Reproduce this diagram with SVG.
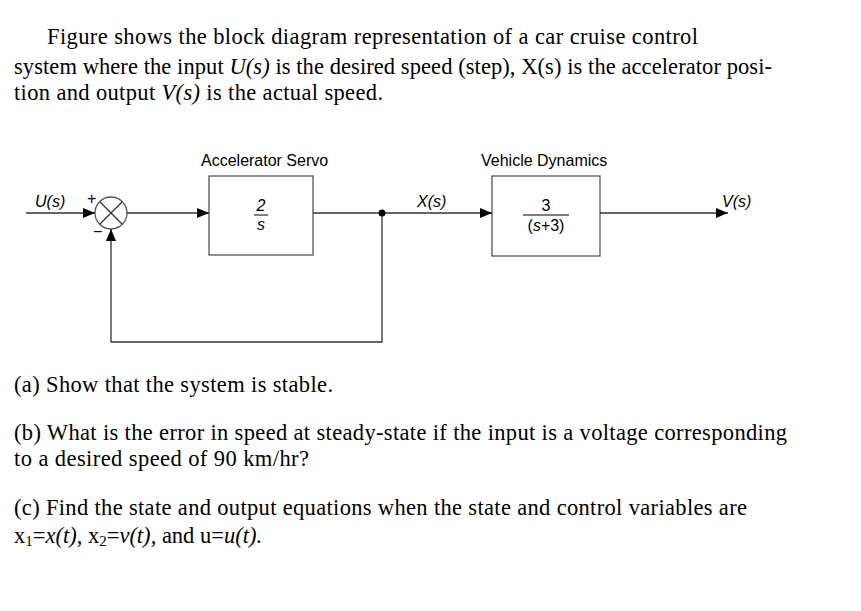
<svg xmlns="http://www.w3.org/2000/svg" width="861" height="611" viewBox="0 0 861 611">
<style>
.t{font-family:"Liberation Serif",serif;font-size:22.5px;fill:#000}
.s{font-family:"Liberation Sans",Arial,sans-serif;font-size:16px;fill:#000}
.b{fill:#fff;stroke:#555;stroke-width:1.3}
.l{fill:none;stroke:#333;stroke-width:1.3}
</style>
<defs><marker id="a" markerWidth="12" markerHeight="10" refX="12" refY="5" orient="auto" markerUnits="userSpaceOnUse"><path d="M0,0L12,5L0,10z" fill="#000"/></marker></defs>
<rect width="861" height="611" fill="#fff"/>
<g id="text">
<text class="t" x="47" y="44" textLength="651">Figure  shows the block diagram representation of a car cruise control</text>
<text class="t" x="14" y="74" textLength="758">system where the input <tspan font-style="italic">U(s)</tspan> is the desired speed (step), X(s) is the accelerator posi-</text>
<text class="t" x="14" y="100" textLength="369">tion and output <tspan font-style="italic">V(s)</tspan> is the actual speed.</text>
<text class="t" x="14" y="392" textLength="319">(a) Show that the system is stable.</text>
<text class="t" x="14" y="440" textLength="773">(b) What is the error in speed at steady-state if the input is a voltage corresponding</text>
<text class="t" x="14" y="466" textLength="295">to a desired speed of 90 km/hr?</text>
<text class="t" x="14" y="515" textLength="733">(c) Find the state and output equations when the state and control variables are</text>
<text class="t" x="14" y="543">x<tspan font-size="15" dy="3">1</tspan><tspan dy="-3">=<tspan font-style="italic">x(t)</tspan>, x</tspan><tspan font-size="15" dy="3">2</tspan><tspan dy="-3">=<tspan font-style="italic">v(t)</tspan>, and u=<tspan font-style="italic">u(t).</tspan></tspan></text>
</g>
<g id="sum">
<circle cx="111" cy="213" r="16" class="b"/>
<path d="M100,202L122,224M122,202L100,224" class="l"/>
<text class="s" x="87" y="204" font-size="13">+</text>
<text class="s" x="93" y="237" font-size="13">−</text>
</g>
<g id="servo">
<text class="s" x="201" y="166">Accelerator Servo</text>
<rect x="209" y="176" width="104" height="79" class="b"/>
<text class="s" x="261" y="211" text-anchor="middle" font-style="italic">2</text>
<line x1="254" y1="215" x2="268" y2="215" stroke="#000"/>
<text class="s" x="261" y="230" text-anchor="middle" font-style="italic">s</text>
</g>
<g id="vehicle">
<text class="s" x="481" y="166">Vehicle Dynamics</text>
<rect x="492" y="176" width="108" height="80" class="b"/>
<text class="s" x="546" y="211" text-anchor="middle">3</text>
<line x1="523" y1="215" x2="569" y2="215" stroke="#000"/>
<text class="s" x="546" y="231" text-anchor="middle">(<tspan font-style="italic">s</tspan>+3)</text>
</g>
<g id="connectors">
<line x1="26" y1="213" x2="95" y2="213" class="l" marker-end="url(#a)"/>
<line x1="127" y1="213" x2="209" y2="213" class="l" marker-end="url(#a)"/>
<line x1="313" y1="213" x2="492" y2="213" class="l" marker-end="url(#a)"/>
<line x1="600" y1="213" x2="728" y2="213" class="l" marker-end="url(#a)"/>
<path d="M382,213V342H111V229" class="l" marker-end="url(#a)"/>
<circle cx="382" cy="213" r="3.5" fill="#000"/>
<text class="s" x="35" y="207" font-style="italic">U(s)</text>
<text class="s" x="417" y="207" font-style="italic">X(s)</text>
<text class="s" x="722" y="207" font-style="italic">V(s)</text>
</g>
</svg>
